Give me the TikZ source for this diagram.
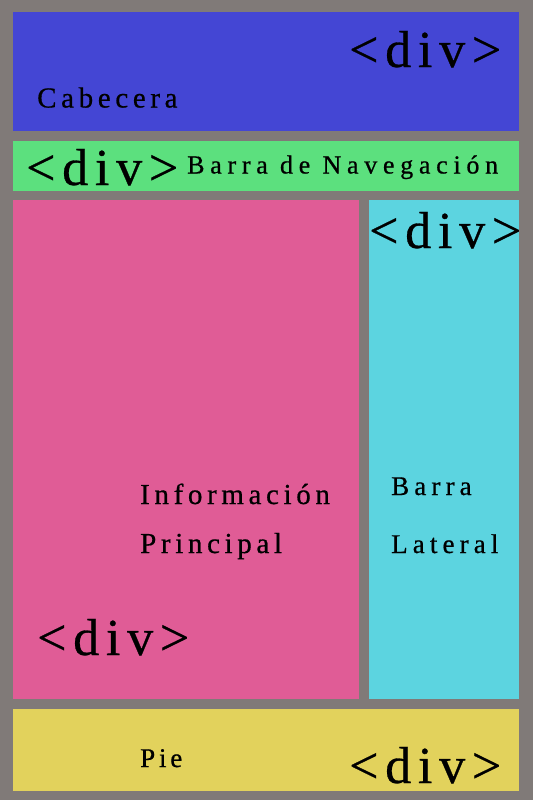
\documentclass[tikz,border=0pt]{standalone}
\usepackage{fontspec}
\setmainfont{Liberation Serif}
\newfontfamily\rotulo[FakeBold=0.6]{Liberation Serif}

\definecolor{fondo}{RGB}{128,122,120}
\definecolor{azul}{RGB}{68,70,212}
\definecolor{verde}{RGB}{92,224,126}
\definecolor{rosa}{RGB}{224,92,150}
\definecolor{celeste}{RGB}{92,212,224}
\definecolor{amarillo}{RGB}{226,210,92}

% tamano y espaciado de letra
\newcommand{\letra}[2]{\rotulo\addfontfeatures{LetterSpace=#2}\fontsize{#1}{#1}\selectfont}

\tikzset{
  texto/.style={anchor=base west, inner sep=0pt, font=\letra{29}{16}},
  etiqdiv/.style={anchor=base west, inner sep=0pt, font=\letra{52}{13}}
}

\begin{document}
\begin{tikzpicture}[x=1pt,y=-1pt]
	\useasboundingbox (0,0) rectangle (533,800);
	\fill [fondo] (0,0) rectangle (533,800);

	% bloques
	\fill [azul] (13,12) rectangle (519,131);
	\fill [verde] (13,141) rectangle (519,191);
	\fill [rosa] (13,200) rectangle (358.5,698.5);
	\fill [celeste] (369,200) rectangle (519,698.5);
	\fill [amarillo] (13,709) rectangle (519,790.5);

	% cabecera
	\node [etiqdiv] (divcab) at (349,67) {<div>};
	\node [texto] (cab) at (37,107.5) {Cabecera};

	% navegacion
	\node [etiqdiv] (divnav) at (26,185) {<div>};
	\node [texto, font=\letra{26}{22}] (nav) at (187,173.5) {Barra de Navegación};

	% principal
	\node [etiqdiv] (divpri) at (37,655) {<div>};
	\node [texto] (pri1) at (140,504) {Información};
	\node [texto] (pri2) at (140,553) {Principal};

	% lateral
	\node [etiqdiv] (divlat) at (369,248) {<div>};
	\node [texto, font=\letra{27}{19}] (lat1) at (391,495) {Barra};
	\node [texto, font=\letra{27}{19}] (lat2) at (391,553) {Lateral};

	% pie
	\node [texto, font=\letra{27}{14}] (pie) at (140,767) {Pie};
	\node [etiqdiv] (divpie) at (349,783) {<div>};
\end{tikzpicture}
\end{document}
